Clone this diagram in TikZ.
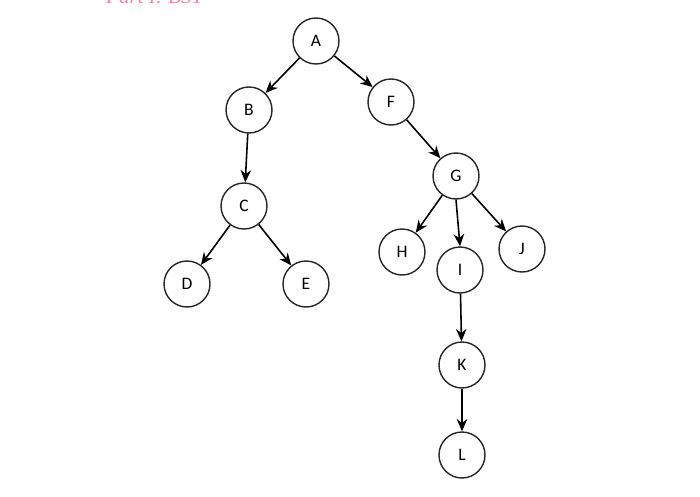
\documentclass[tikz,border=0pt]{standalone}
\usepackage{xcolor}
\usepackage{fontspec}
\setmainfont{Carlito}
\newfontfamily\titlefont{Liberation Serif}
\usetikzlibrary{arrows.meta}
\definecolor{titlepink}{HTML}{E98AAE}

\begin{document}
\begin{tikzpicture}[x=0.02cm,y=-0.02cm,
          treenode/.style={circle, draw=black!85, line width=0.8pt, minimum size=0.92cm, inner sep=0pt, font=\normalsize},
          edge/.style={line width=0.9pt, -{Stealth[length=7pt,width=6pt]}}]
          \useasboundingbox (0,0) rectangle (700,497);

          \node[anchor=base west, text=titlepink, font=\titlefont\itshape\large] (title) at (100,4) {Part I: BST};

          \node[treenode] (A) at (316,41) {A};
          \node[treenode] (B) at (249,110) {B};
          \node[treenode] (F) at (391,102) {F};
          \node[treenode] (C) at (244,206) {C};
          \node[treenode] (G) at (456,176) {G};
          \node[treenode] (D) at (187,284) {D};
          \node[treenode] (E) at (306,284) {E};
          \node[treenode] (H) at (402,252) {H};
          \node[treenode] (I) at (460,270) {I};
          \node[treenode] (J) at (522,249) {J};
          \node[treenode] (K) at (462,365) {K};
          \node[treenode] (L) at (462,455) {L};

          \draw[edge] (A) -- (B);
          \draw[edge] (A) -- (F);
          \draw[edge] (B) -- (C);
          \draw[edge] (C) -- (D);
          \draw[edge] (C) -- (E);
          \draw[edge] (F) -- (G);
          \draw[edge] (G) -- (H);
          \draw[edge] (G.south) -- (I.north);
          \draw[edge] (G) -- (J);
          \draw[edge] (I) -- (K);
          \draw[edge] (K) -- (L);

          \end{tikzpicture}
\end{document}
